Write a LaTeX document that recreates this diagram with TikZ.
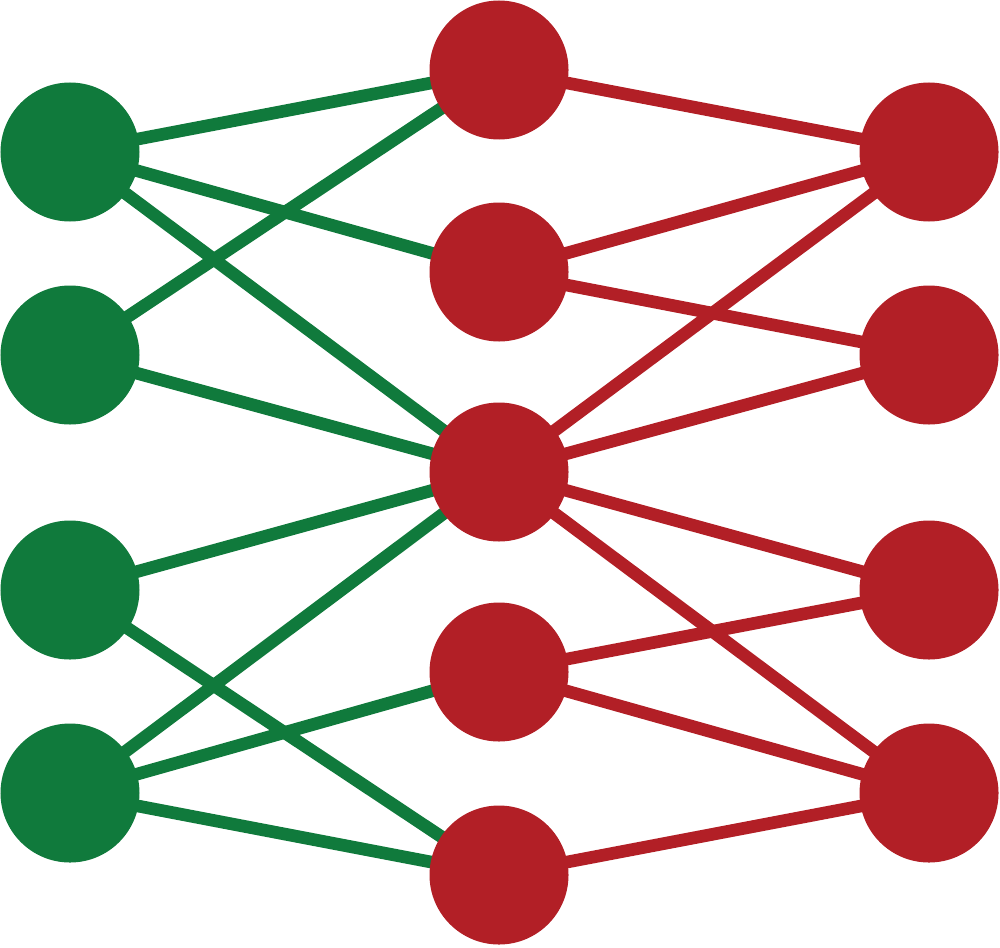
\documentclass[tikz,border=0pt]{standalone}
\usepackage{tikz}
\usetikzlibrary{backgrounds}
\definecolor{netgreen}{HTML}{107A3C}
\definecolor{netred}{HTML}{B21F26}

\begin{document}
\begin{tikzpicture}
  [inputunit/.style={circle,fill=netgreen,draw=none,inner sep=0,
                     outer sep=0,minimum size=1.39cm},
   hiddenunit/.style={circle,fill=netred,draw=none,inner sep=0,
                      outer sep=0,minimum size=1.39cm},
   greenlink/.style={draw=netgreen,line width=3.6pt,
                     shorten <=-4pt,shorten >=-4pt},
   redlink/.style={draw=netred,line width=3.6pt,
                   shorten <=-4pt,shorten >=-4pt}]
  \useasboundingbox (0,0) rectangle (10,-9.47);
  \node[inputunit] (in1) at (0.70,-1.52) {};
  \node[inputunit] (in2) at (0.70,-3.55) {};
  \node[inputunit] (in3) at (0.70,-5.90) {};
  \node[inputunit] (in4) at (0.70,-7.93) {};
  \node[hiddenunit] (hid1) at (4.99,-0.70) {};
  \node[hiddenunit] (hid2) at (4.99,-2.72) {};
  \node[hiddenunit] (hid3) at (4.99,-4.72) {};
  \node[hiddenunit] (hid4) at (4.99,-6.72) {};
  \node[hiddenunit] (hid5) at (4.99,-8.75) {};
  \node[hiddenunit] (out1) at (9.29,-1.52) {};
  \node[hiddenunit] (out2) at (9.29,-3.55) {};
  \node[hiddenunit] (out3) at (9.29,-5.90) {};
  \node[hiddenunit] (out4) at (9.29,-7.93) {};
  \begin{pgfonlayer}{background}
  \draw[greenlink] (in1) to (hid1);
  \draw[greenlink] (in1) to (hid2);
  \draw[greenlink] (in1) to (hid3);
  \draw[greenlink] (in2) to (hid1);
  \draw[greenlink] (in2) to (hid3);
  \draw[greenlink] (in3) to (hid3);
  \draw[greenlink] (in3) to (hid5);
  \draw[greenlink] (in4) to (hid3);
  \draw[greenlink] (in4) to (hid4);
  \draw[greenlink] (in4) to (hid5);
  \draw[redlink] (hid1) to (out1);
  \draw[redlink] (hid2) to (out1);
  \draw[redlink] (hid2) to (out2);
  \draw[redlink] (hid3) to (out1);
  \draw[redlink] (hid3) to (out2);
  \draw[redlink] (hid3) to (out3);
  \draw[redlink] (hid3) to (out4);
  \draw[redlink] (hid4) to (out3);
  \draw[redlink] (hid4) to (out4);
  \draw[redlink] (hid5) to (out4);
  \end{pgfonlayer}
\end{tikzpicture}
\end{document}
